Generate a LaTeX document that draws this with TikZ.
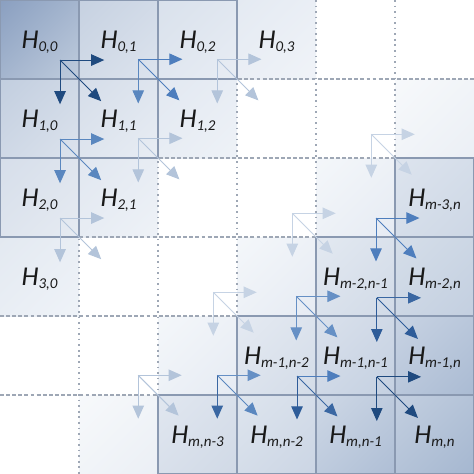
\documentclass[tikz,border=0pt]{standalone}
\usepackage{fontspec}
\setmainfont{Carlito}
\usetikzlibrary{arrows.meta,shadings}
% fills
\definecolor{aA}{HTML}{8A9FC0}\definecolor{aB}{HTML}{BFCCDD}
\definecolor{bA}{HTML}{C6D1E1}\definecolor{bB}{HTML}{DDE4EE}
\definecolor{cA}{HTML}{D9E1EC}\definecolor{cB}{HTML}{E8EDF4}
\definecolor{dA}{HTML}{E4EAF2}\definecolor{dB}{HTML}{F0F3F8}
\definecolor{eA}{HTML}{C2CEDF}\definecolor{eB}{HTML}{DCE3ED}
\definecolor{fA}{HTML}{D5DDE9}\definecolor{fB}{HTML}{E8EDF4}
\definecolor{gA}{HTML}{E2E8F1}\definecolor{gB}{HTML}{EEF2F7}
\definecolor{hA}{HTML}{D6DEEA}\definecolor{hB}{HTML}{E6EBF2}
\definecolor{iA}{HTML}{E1E7F0}\definecolor{iB}{HTML}{EEF2F7}
\definecolor{jA}{HTML}{E3E9F1}\definecolor{jB}{HTML}{EFF3F8}
\definecolor{kA}{HTML}{C3CFE0}\definecolor{kB}{HTML}{A5B7D0}
\definecolor{lA}{HTML}{CED8E6}\definecolor{lB}{HTML}{AEBED5}
\definecolor{mA}{HTML}{C8D3E3}\definecolor{mB}{HTML}{AABBD3}
\definecolor{nA}{HTML}{DAE1EC}\definecolor{nB}{HTML}{C4D0E1}
\definecolor{oA}{HTML}{DEE5EE}\definecolor{oB}{HTML}{CBD5E4}
\definecolor{pA}{HTML}{D5DEE9}\definecolor{pB}{HTML}{C3CFE0}
\definecolor{qA}{HTML}{E5EAF2}\definecolor{qB}{HTML}{D3DCE8}
\definecolor{rA}{HTML}{E3E9F1}\definecolor{rB}{HTML}{D1DAE7}
\definecolor{sA}{HTML}{E1E7F0}\definecolor{sB}{HTML}{D0D9E6}
\definecolor{tA}{HTML}{DDE4EE}\definecolor{tB}{HTML}{CDD7E5}
\definecolor{uA}{HTML}{F4F7FA}\definecolor{uB}{HTML}{E6EBF3}
\definecolor{vA}{HTML}{F7F9FB}\definecolor{vB}{HTML}{EBEFF5}
% lines
\definecolor{gridc}{HTML}{9EA7B5}
\definecolor{bordc}{HTML}{8A99B1}
% arrows
\definecolor{adark}{HTML}{1F4A7F}
\definecolor{adark2}{HTML}{2E5C99}
\definecolor{amd}{HTML}{3A67A2}
\definecolor{amed}{HTML}{4E7EBD}
\definecolor{amed2}{HTML}{5A87BF}
\definecolor{amed3}{HTML}{6690C5}
\definecolor{afaint}{HTML}{B3C4DA}
\definecolor{afaint2}{HTML}{C6D3E4}
\newcommand\cellfill[4]{\shade[shading=bilinear interpolation,upper left=#3, lower right=#4, upper right=#3!50!#4, lower left=#3!50!#4] (#1,-#2) rectangle ++(1,-1);}
\newcommand\lbl[1]{\textit{H}\raisebox{-1.2pt}{\fontsize{5.4}{6}\selectfont\itshape #1}}
\newcommand\fan[8]{%
  \coordinate (#1) at ({#2+#4},{-#3-#4});
  \coordinate (#1r) at ({#2+#4+#5},{-#3-#4});
  \coordinate (#1d) at ({#2+#4},{-#3-#4-#5});
  \coordinate (#1g) at ({#2+#4+0.93*#5},{-#3-#4-0.93*#5});
  \draw[arr,color=#6] (#1) -- (#1r);
  \draw[arr,color=#7] (#1) -- (#1d);
  \draw[arr,color=#8] (#1) -- (#1g);}
\begin{document}
\begin{tikzpicture}[
  arr/.style={line width=0.38pt,-{Triangle[length=4.7pt,width=4.1pt]}},
  hdash/.style={draw=gridc,line width=0.45pt,dash pattern=on 1.4pt off 0.8pt},
  vdash/.style={draw=gridc,line width=0.45pt,dash pattern=on 0.6pt off 1.4pt},
  cellborder/.style={draw=bordc,line width=0.55pt},
  lab/.style={anchor=base,inner sep=0pt,font=\fontsize{9.8}{11}\selectfont,text=black!90}]
\useasboundingbox (0,0) rectangle (6,-6);
\clip (0,0) rectangle (6,-6);
\fill[white] (0,0) rectangle (6,-6);
% fills
\cellfill{0}{0}{aA}{aB}
\cellfill{1}{0}{bA}{bB}
\cellfill{2}{0}{cA}{cB}
\cellfill{3}{0}{dA}{dB}
\cellfill{0}{1}{eA}{eB}
\cellfill{1}{1}{fA}{fB}
\cellfill{2}{1}{gA}{gB}
\cellfill{0}{2}{hA}{hB}
\cellfill{1}{2}{iA}{iB}
\cellfill{0}{3}{jA}{jB}
\cellfill{5}{5}{kA}{kB}
\cellfill{4}{5}{lA}{lB}
\cellfill{5}{4}{mA}{mB}
\cellfill{4}{4}{nA}{nB}
\cellfill{3}{5}{oA}{oB}
\cellfill{5}{3}{pA}{pB}
\cellfill{3}{4}{qA}{qB}
\cellfill{4}{3}{rA}{rB}
\cellfill{2}{5}{sA}{sB}
\cellfill{5}{2}{tA}{tB}
\cellfill{3}{3}{uA}{uB}
\cellfill{4}{2}{uA}{uB}
\cellfill{2}{4}{uA}{uB}
\cellfill{5}{1}{vA}{vB}
\cellfill{1}{5}{vA}{vB}
% dashed grid
\foreach \i in {1,...,5} {
  \draw[hdash] (0,-\i) -- (6,-\i);
  \draw[vdash] (\i,0) -- (\i,-6);
}
% solid borders
\foreach \c/\r in {0/0,1/0,2/0,0/1,1/1,0/2,5/2,4/3,5/3,3/4,4/4,5/4,2/5,3/5,4/5,5/5}
  \draw[cellborder] (\c,-\r) rectangle ++(1,-1);
% arrows
\fan{s00}{0}{0}{0.76}{0.56}{adark}{adark}{adark}
\fan{s10}{1}{0}{0.75}{0.56}{amed}{amed2}{amed}
\fan{s01}{0}{1}{0.76}{0.56}{amed2}{amed2}{amed2}
\fan{s20}{2}{0}{0.75}{0.56}{afaint}{afaint}{afaint}
\fan{s11}{1}{1}{0.75}{0.56}{afaint}{afaint}{afaint}
\fan{s02}{0}{2}{0.76}{0.56}{afaint}{afaint}{afaint}
\fan{s41}{4}{1}{0.70}{0.55}{afaint2}{afaint2}{afaint2}
\fan{s32}{3}{2}{0.70}{0.55}{afaint2}{afaint2}{afaint2}
\fan{s23}{2}{3}{0.70}{0.55}{afaint2}{afaint2}{afaint2}
\fan{s42}{4}{2}{0.76}{0.55}{amed}{amed}{amed}
\fan{s33}{3}{3}{0.75}{0.56}{amed3}{amed3}{amed3}
\fan{s24}{2}{4}{0.75}{0.55}{amed3}{amd}{amed2}
\fan{s14}{1}{4}{0.75}{0.55}{afaint}{afaint}{afaint}
\fan{s43}{4}{3}{0.77}{0.56}{amd}{adark2}{adark2}
\fan{s34}{3}{4}{0.76}{0.55}{amed}{adark2}{amd}
\fan{s44}{4}{4}{0.77}{0.56}{adark}{adark}{adark}
% labels
\node[lab] (h00) at (0.5,-0.61) {\lbl{0,0}};
\node[lab] (h01) at (1.5,-0.61) {\lbl{0,1}};
\node[lab] (h02) at (2.5,-0.61) {\lbl{0,2}};
\node[lab] (h03) at (3.5,-0.61) {\lbl{0,3}};
\node[lab] (h10) at (0.5,-1.61) {\lbl{1,0}};
\node[lab] (h11) at (1.5,-1.61) {\lbl{1,1}};
\node[lab] (h12) at (2.5,-1.61) {\lbl{1,2}};
\node[lab] (h20) at (0.5,-2.61) {\lbl{2,0}};
\node[lab] (h21) at (1.5,-2.61) {\lbl{2,1}};
\node[lab] (h30) at (0.5,-3.61) {\lbl{3,0}};
\node[lab] (hm3n) at (5.5,-2.61) {\lbl{m-3,n}};
\node[lab] (hm2n1) at (4.5,-3.61) {\lbl{m-2,n-1}};
\node[lab] (hm2n) at (5.5,-3.61) {\lbl{m-2,n}};
\node[lab] (hm1n2) at (3.5,-4.61) {\lbl{m-1,n-2}};
\node[lab] (hm1n1) at (4.5,-4.61) {\lbl{m-1,n-1}};
\node[lab] (hm1n) at (5.5,-4.61) {\lbl{m-1,n}};
\node[lab] (hmn3) at (2.5,-5.61) {\lbl{m,n-3}};
\node[lab] (hmn2) at (3.5,-5.61) {\lbl{m,n-2}};
\node[lab] (hmn1) at (4.5,-5.61) {\lbl{m,n-1}};
\node[lab] (hmn) at (5.5,-5.61) {\lbl{m,n}};
\end{tikzpicture}
\end{document}
